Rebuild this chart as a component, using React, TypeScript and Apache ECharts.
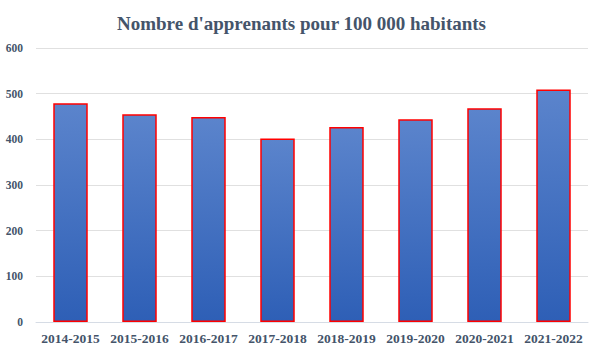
import React, { useEffect, useRef } from "react";
import * as echarts from "echarts";

const categories = ["2014-2015", "2015-2016", "2016-2017", "2017-2018", "2018-2019", "2019-2020", "2020-2021", "2021-2022"];
const values = [479, 455, 449, 402, 427, 444, 468, 509];
const yTicks = { min: 0, max: 600, interval: 100 };
const titleText = "Nombre d'apprenants pour 100 000 habitants";

export default function App() {
  const ref = useRef<HTMLDivElement>(null);
  useEffect(() => {
    document.body.style.margin = "0";
    const chart = echarts.init(ref.current!, null, { renderer: "svg" });
    const font = '"Liberation Serif", "Times New Roman", serif';
    chart.setOption({
      animation: false,
      backgroundColor: "#ffffff",
      title: {
        text: titleText,
        left: "center",
        top: 9,
        textStyle: { fontFamily: font, fontSize: 19, fontWeight: "bold", color: "#44546a" },
      },
      grid: { left: 36, right: 15, top: 48, bottom: 31 },
      xAxis: {
        type: "category",
        data: categories,
        axisTick: { show: false },
        axisLine: { lineStyle: { color: "#d6dce5", width: 1 } },
        axisLabel: { interval: 0, fontFamily: font, fontSize: 13.5, fontWeight: "bold", color: "#44546a", margin: 9 },
      },
      yAxis: {
        type: "value",
        min: yTicks.min,
        max: yTicks.max,
        interval: yTicks.interval,
        axisLine: { show: false },
        axisTick: { show: false },
        splitLine: { lineStyle: { color: "#e0e0e0", width: 1 } },
        axisLabel: { fontFamily: font, fontSize: 11.5, fontWeight: "bold", color: "#44546a", margin: 13 },
      },
      series: [
        {
          type: "bar",
          data: values,
          barWidth: "50%",
          itemStyle: {
            color: new echarts.graphic.LinearGradient(0, 0, 0, 1, [
              { offset: 0, color: "#5b84cc" },
              { offset: 1, color: "#2e5fb6" },
            ]),
            borderColor: "#ff0000",
            borderWidth: 1.5,
          },
        },
      ],
    });
    return () => chart.dispose();
  }, []);
  return <div ref={ref} style={{ width: 603, height: 353 }} />;
}
